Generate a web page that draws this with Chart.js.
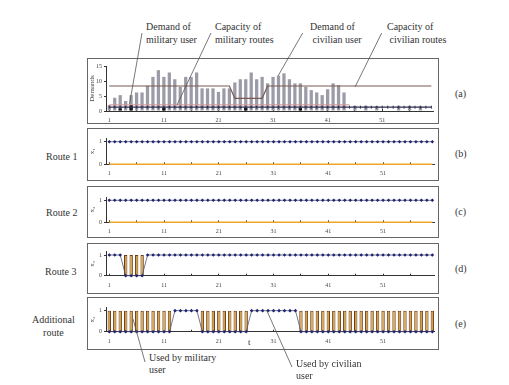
<!DOCTYPE html>
<html>
<head>
<meta charset="utf-8">
<script src="https://cdn.jsdelivr.net/npm/chart.js@4/dist/chart.umd.min.js"></script>
<style>
  html, body { margin: 0; padding: 0; background: #fff; }
  body { width: 509px; height: 385px; position: relative; overflow: hidden;
         font-family: "Liberation Serif", "DejaVu Serif", serif; color: #333; }
  .panel { position: absolute; left: 87px; width: 350px; border: 1px solid #666; }
  .panel canvas { display: block; }
  .txt { position: absolute; font-size: 10px; line-height: 13px; white-space: nowrap; }
  .side { position: absolute; font-size: 10px; line-height: 13px; white-space: nowrap; text-align: center; }
  svg { position: absolute; left: 0; top: 0; pointer-events: none; }
</style>
</head>
<body>
<div class="panel" style="top:58px;height:64px"><canvas id="cA"></canvas></div>
<div class="panel" style="top:128px;height:51px"><canvas id="cB"></canvas></div>
<div class="panel" style="top:186px;height:50px"><canvas id="cC"></canvas></div>
<div class="panel" style="top:243px;height:49px"><canvas id="cD"></canvas></div>
<div class="panel" style="top:297px;height:51px"><canvas id="cE"></canvas></div>

<!-- annotations -->
<div class="txt" style="left:146px;top:20px">Demand of<br>military user</div>
<div class="txt" style="left:215px;top:20px">Capacity of<br>military routes</div>
<div class="txt" style="left:310px;top:20px">Demand of<br>&nbsp;civilian user</div>
<div class="txt" style="left:387px;top:20px">Capacity of<br>&nbsp;civilian routes</div>
<div class="txt" style="left:149px;top:352px;line-height:12px">Used by military<br>user</div>
<div class="txt" style="left:296px;top:358px;line-height:12px">Used by civilian<br>user</div>
<div class="txt" style="left:248px;top:336px;font-size:9px">t</div>

<div class="side" style="left:46px;top:150px">Route 1</div>
<div class="side" style="left:46px;top:206px">Route 2</div>
<div class="side" style="left:45px;top:265px">Route 3</div>
<div class="side" style="left:32px;top:313px">Additional<br>route</div>

<div class="side" style="left:455px;top:87px">(a)</div>
<div class="side" style="left:455px;top:147px">(b)</div>
<div class="side" style="left:455px;top:205px">(c)</div>
<div class="side" style="left:455px;top:262px">(d)</div>
<div class="side" style="left:455px;top:317px">(e)</div>

<svg width="509" height="385">
  <g stroke="#555" stroke-width="0.8" fill="none">
    <line x1="142" y1="33" x2="129.5" y2="104"/>
    <line x1="211" y1="33" x2="177" y2="105"/>
    <line x1="302.7" y1="33" x2="278" y2="76"/>
    <line x1="381.7" y1="33" x2="355" y2="87"/>
    <line x1="145" y1="362" x2="133" y2="319"/>
    <line x1="292" y1="367" x2="267" y2="311"/>
  </g>
</svg>

<script>
// Time steps 1..60 and the tick layout of every panel's x axis.
const T = Array.from({ length: 60 }, (_, i) => i + 1);
const X_TICKS = [1, 6, 11, 16, 21, 26, 31, 36, 41, 46, 51, 56];
const X_LABELS = [1, 11, 21, 31, 41, 51];
const DEMAND_TICKS = [0, 5, 10, 15];
const BIN_TICKS = [0, 1];

// (a) demands and capacities
const civDemand = [
  2.0, 4.5, 5.4, 3.4, 5.4, 6.3, 6.3, 8.6, 11.6, 13.9,
  11.6, 13.1, 10.8, 8.2, 11.6, 11.6, 13.1, 7.7, 7.7, 7.7,
  6.5, 7.7, 7.7, 9.7, 10.8, 10.8, 13.1, 10.8, 11.6, 9.4,
  11.6, 12.0, 12.8, 10.8, 9.4, 9.4, 8.2, 7.1, 6.3, 5.4,
  7.4, 9.4, 8.8, 6.3, null, 1.8, null, 1.8, null, 1.6,
  null, null, null, 1.8, null, 1.8, null, 1.6, null, null];
const milDemand = [
  null, null, 0.9, null, 2.0, null, null, null, null, null,
  1.1, null, null, null, null, null, null, null, null, null,
  null, null, null, null, null, 1.1, null, null, null, null,
  null, null, null, null, null, 1.0, null, null, null, null,
  null, null, null, null, null, null, null, null, null, null,
  null, null, null, null, null, null, null, null, null, null];
const civCapacity = [
  8.5, 8.5, 8.5, 8.5, 8.5, 8.5, 8.5, 8.5, 8.5, 8.5,
  8.5, 8.5, 8.5, 8.5, 8.5, 8.5, 8.5, 8.5, 8.5, 8.5,
  8.5, 8.5, 8.5, 4.3, 4.3, 4.3, 4.3, 4.3, 4.3, 8.5,
  8.5, 8.5, 8.5, 8.5, 8.5, 8.5, 8.5, 8.5, 8.5, 8.5,
  8.5, 8.5, 8.5, 8.5, 8.5, 8.5, 8.5, 8.5, 8.5, 8.5,
  8.5, 8.5, 8.5, 8.5, 8.5, 8.5, 8.5, 8.5, 8.5, 8.5];
const milCapacity = [
  1.3, 1.3, 1.3, 1.3, 1.3, 1.3, 1.3, 1.3, 1.3, 1.3,
  1.3, 1.3, 1.3, 1.3, 1.3, 1.3, 1.3, 1.3, 1.3, 1.3,
  1.3, 1.3, 1.3, 1.3, 1.3, 1.3, 1.3, 1.3, 1.3, 1.3,
  1.3, 1.3, 1.3, 1.3, 1.3, 1.3, 1.3, 1.3, 1.3, 1.3,
  1.3, 1.3, 1.3, 1.3, 1.3, 1.3, 1.3, 1.3, 1.3, 1.3,
  1.3, 1.3, 1.3, 1.3, 1.3, 1.3, 1.3, 1.3, 1.3, 1.3];
const milLoad = [
  2.1, 2.1, 2.1, 2.1, 2.1, 2.1, 2.1, 2.1, 2.1, 2.1,
  2.1, 2.1, 2.1, 2.1, 2.1, 2.1, 2.1, 2.1, 2.1, 2.1,
  2.1, 2.1, 2.1, 2.1, 2.1, 2.1, 2.1, 2.1, 2.1, 2.1,
  2.1, 2.1, 2.1, 2.1, 2.1, 2.1, 2.1, 2.1, 2.1, 2.1,
  2.1, 2.1, 2.1, 2.1, 2.1, null, null, null, null, null,
  null, null, null, null, null, null, null, null, null, null];

// (b)-(e) route use: civilian x (dots) and military use (bars / baseline)
const ONES = [
  1, 1, 1, 1, 1, 1, 1, 1, 1, 1, 1, 1, 1, 1, 1, 1, 1, 1, 1, 1,
  1, 1, 1, 1, 1, 1, 1, 1, 1, 1, 1, 1, 1, 1, 1, 1, 1, 1, 1, 1,
  1, 1, 1, 1, 1, 1, 1, 1, 1, 1, 1, 1, 1, 1, 1, 1, 1, 1, 1, 1];
const ZEROS = [
  0, 0, 0, 0, 0, 0, 0, 0, 0, 0, 0, 0, 0, 0, 0, 0, 0, 0, 0, 0,
  0, 0, 0, 0, 0, 0, 0, 0, 0, 0, 0, 0, 0, 0, 0, 0, 0, 0, 0, 0,
  0, 0, 0, 0, 0, 0, 0, 0, 0, 0, 0, 0, 0, 0, 0, 0, 0, 0, 0, 0];
const route1Civ = ONES, route1Mil = ZEROS;
const route2Civ = ONES, route2Mil = ZEROS;
const route3Civ = [
  1, 1, 1, 0, 0, 0, 0, 1, 1, 1, 1, 1, 1, 1, 1, 1, 1, 1, 1, 1,
  1, 1, 1, 1, 1, 1, 1, 1, 1, 1, 1, 1, 1, 1, 1, 1, 1, 1, 1, 1,
  1, 1, 1, 1, 1, 1, 1, 1, 1, 1, 1, 1, 1, 1, 1, 1, 1, 1, 1, 1];
const route3Mil = [
  null, null, null, 1, 1, 1, 1, null, null, null, null, null, null, null, null,
  null, null, null, null, null, null, null, null, null, null, null, null, null, null, null,
  null, null, null, null, null, null, null, null, null, null, null, null, null, null, null,
  null, null, null, null, null, null, null, null, null, null, null, null, null, null, null];
const route4Civ = [
  0, 0, 0, 0, 0, 0, 0, 0, 0, 0, 0, 0, 1, 1, 1, 1, 1, 0, 0, 0,
  0, 0, 0, 0, 0, 0, 1, 1, 1, 1, 1, 1, 1, 1, 1, 0, 0, 0, 0, 0,
  0, 0, 0, 0, 0, 0, 0, 0, 0, 0, 0, 0, 0, 0, 0, 0, 0, 0, 0, 0];
const route4Mil = [
  1, 1, 1, 1, 1, 1, 1, 1, 1, 1, 1, 1, null, null, null, null, null, 1, 1, 1,
  1, 1, 1, 1, 1, 1, null, null, null, null, null, null, null, null, null, 1, 1, 1, 1, 1,
  1, 1, 1, 1, 1, 1, 1, 1, 1, 1, 1, 1, 1, 1, 1, 1, 1, 1, 1, 1];

const SERIF = '"Liberation Serif", "DejaVu Serif", serif';
Chart.defaults.font.family = SERIF;
const C = {
  navy: "#1f2470",
  civLine: "#55557a",
  orange: "#efa52a",
  barFill: "#d4a044",
  barEdge: "#6e3d16",
  demand: "#9c9ca8",
  axis: "#333",
  tick: "#444",
};

const pts = (vals) => T.map((t, i) => ({ x: t, y: vals[i] }));

function xScale(h) {
  return {
    type: "linear", min: 0.4, max: 60.3, offset: false,
    border: { display: true, color: C.axis, width: 1 },
    grid: { drawOnChartArea: false, drawTicks: true, tickLength: -2, color: C.axis, offset: false },
    ticks: {
      font: { size: 6 }, color: C.tick, padding: 8, maxRotation: 0, autoSkip: false,
      callback: (v) => (X_LABELS.includes(v) ? String(v) : ""),
    },
    afterBuildTicks: (s) => { s.ticks = X_TICKS.map((v) => ({ value: v })); },
    afterFit: (s) => { s.height = h; },
  };
}
function yScale(max, ticks, title) {
  return {
    min: 0, max,
    border: { display: true, color: C.axis, width: 1 },
    grid: { drawOnChartArea: false, drawTicks: true, tickLength: 2, color: C.axis },
    ticks: { font: { size: 6 }, color: C.tick, padding: 2 },
    title: { display: true, text: title, font: { size: 7 }, color: C.tick, padding: 0 },
    afterBuildTicks: (s) => { s.ticks = ticks.map((v) => ({ value: v })); },
    afterFit: (s) => { s.width = 18; },
  };
}
function panel(id, datasets, padTop, xH, yOpts) {
  return new Chart(document.getElementById(id), {
    type: "bar",
    data: { datasets },
    options: {
      responsive: true, maintainAspectRatio: false, animation: false,
      events: [],
      layout: { padding: { top: padTop, right: 4, left: 0, bottom: 0 } },
      plugins: { legend: { display: false }, tooltip: { enabled: false } },
      scales: { x: xScale(xH), y: yOpts },
    },
  });
}

// civilian dots on a route + military bars
function routeSets(civ, mil, baseline) {
  const sets = [{
    type: "line", data: pts(civ), order: 0, clip: false,
    borderColor: C.civLine, borderWidth: 0.8,
    pointStyle: "rectRot", pointRadius: 1.8, pointBackgroundColor: C.navy, pointBorderWidth: 0,
  }];
  if (baseline) {
    sets.push({
      type: "line", data: pts(mil), order: 1, clip: false,
      borderColor: C.orange, borderWidth: 1.4, pointRadius: 0,
    });
  } else {
    sets.push({
      type: "bar", data: pts(mil), order: 2, grouped: false,
      backgroundColor: C.barFill, borderColor: C.barEdge, borderWidth: 1,
      barPercentage: 0.62, categoryPercentage: 1,
    });
  }
  return sets;
}

// (a) demands vs capacities
panel("cA", [
  { type: "line", data: pts(civCapacity), order: 0, clip: false,
    borderColor: "#7a5a52", borderWidth: 1.2, pointRadius: 0 },
  { type: "line", data: pts(milLoad), order: 1, clip: false,
    borderColor: "#d89494", borderWidth: 1, pointRadius: 0 },
  { type: "line", data: pts(milCapacity), order: 0, clip: false,
    borderColor: "#2e2e50", borderWidth: 1.2,
    pointStyle: "line", pointRadius: 1.5, rotation: 90, pointBorderColor: "#2e2e50", pointBorderWidth: 1 },
  { type: "bar", data: pts(milDemand), order: 1, grouped: false,
    backgroundColor: "#111", barPercentage: 0.6, categoryPercentage: 1 },
  { type: "bar", data: pts(civDemand), order: 3, grouped: false,
    backgroundColor: C.demand, barPercentage: 0.6, categoryPercentage: 1 },
], 7, 12, yScale(15.3, DEMAND_TICKS, "Demands"));

panel("cB", routeSets(route1Civ, route1Mil, true), 9.3, 15.7, yScale(1.15, BIN_TICKS, "x\u2081"));
panel("cC", routeSets(route2Civ, route2Mil, true), 10, 14.7, yScale(1.15, BIN_TICKS, "x\u2082"));
panel("cD", routeSets(route3Civ, route3Mil, false), 7.9, 17.3, yScale(1.15, BIN_TICKS, "x\u2083"));
panel("cE", routeSets(route4Civ, route4Mil, false), 9.5, 17.3, yScale(1.15, BIN_TICKS, "x\u2084"));
</script>
</body>
</html>
